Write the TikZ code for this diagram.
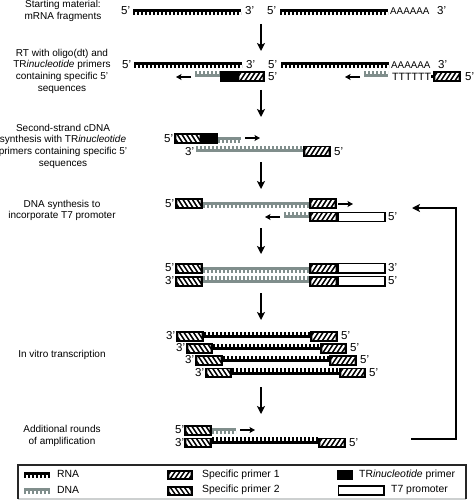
\documentclass[tikz,border=0pt]{standalone}
\usepackage{fontspec}
\setmainfont{Liberation Sans}
\usetikzlibrary{arrows.meta}
\definecolor{dnagray}{RGB}{128,142,140}
\definecolor{lowgray}{RGB}{205,208,208}
\tikzset{
  steplabel/.style={align=center,font=\fontsize{10}{11.7}\selectfont,inner sep=0pt},
  endlabel/.style={font=\fontsize{11.5}{12}\selectfont,inner sep=0pt,anchor=west},
  seqlabel/.style={font=\fontsize{9.8}{12}\selectfont,inner sep=0pt,anchor=west},
  legendlabel/.style={font=\fontsize{10.4}{12}\selectfont,inner sep=0pt,anchor=west},
  flow/.style={line width=1.3pt,-{Stealth[length=8pt,width=8pt,inset=2pt]}},
  small flow/.style={line width=1.1pt,-{Stealth[length=5.5pt,width=6pt,inset=1.2pt]}},
  blackbox/.style={fill=black,draw=none},
  t7box/.style={fill=white,draw=black,line width=1.4pt},
}
% strand: x1, x2, top y, colour
\newcommand{\strandD}[4]{%
  \fill[#4] (#1,#3) rectangle (#2,#3+3);
  \draw[#4,line width=3.4pt,dash pattern=on 2pt off 2pt] (#1,#3+4.7) -- (#2,#3+4.7);}
\newcommand{\strandU}[4]{%
  \fill[#4] (#1,#3+3) rectangle (#2,#3+6);
  \draw[#4,line width=3.4pt,dash pattern=on 2pt off 2pt] (#1,#3+1.3) -- (#2,#3+1.3);}
% stripe boxes: x1, y1, x2, y2
\newcommand{\primerA}[4]{%
  \fill[black] (#1,#2) rectangle (#3,#4);
  \begin{scope}
    \clip (#1+2.4,#2+2.2) rectangle (#3-2.4,#4-2.2);
    \foreach \k in {-2,...,7}{
      \draw[white,line width=2.1pt] (#1+\k*4.7,#4) -- (#1+\k*4.7+7,#2);}
  \end{scope}}
\newcommand{\primerB}[4]{%
  \fill[black] (#1,#2) rectangle (#3,#4);
  \begin{scope}
    \clip (#1+2.4,#2+2.2) rectangle (#3-2.4,#4-2.2);
    \foreach \k in {-2,...,7}{
      \draw[white,line width=2.1pt] (#1+\k*4.7,#2) -- (#1+\k*4.7+7,#4);}
  \end{scope}}
\newcommand{\flowarrow}[4]{%
  \coordinate (#1s) at (#2,#3);
  \coordinate (#1e) at (#2,#4);
  \draw[flow] (#1s) -- (#1e);}
% small arrow: name, from x, to x, y
\newcommand{\sarrow}[4]{%
  \coordinate (#1s) at (#2,#4);
  \coordinate (#1e) at (#3,#4);
  \draw[small flow] (#1s) -- (#1e);}
\begin{document}
\begin{tikzpicture}[x=1pt,y=-1pt]
\useasboundingbox (0,0) rectangle (474,500);
% step labels
\node[steplabel] (l1) at (63,11) {Starting material:\\mRNA fragments};
\node[steplabel] (l2) at (62,71) {RT with oligo(dt) and\\TR\textit{inucleotide} primers\\containing specific 5'\\sequences};
\node[steplabel] (l3) at (63,146) {Second-strand cDNA\\synthesis with TR\textit{inucleotide}\\primers containing specific 5'\\sequences};
\node[steplabel] (l4) at (62,210.5) {DNA synthesis to\\incorporate T7 promoter};
\node[steplabel] (l5) at (62,354.5) {In vitro transcription};
\node[steplabel] (l6) at (62,436) {Additional rounds\\of amplification};
% row 1
\node[endlabel] (r1a) at (121,10.5) {5'};
\strandD{133}{241}{9}{black}
\node[endlabel] (r1b) at (245,10.5) {3'};
\node[endlabel] (r1c) at (267,10.5) {5'};
\strandD{280}{388}{9}{black}
\node[seqlabel] (r1d) at (390,11) {AAAAAA};
\node[endlabel] (r1e) at (437,10.5) {3'};
\flowarrow{a1}{261}{24}{51}
% row 2
\node[endlabel] (r2a) at (122,64.5) {5'};
\strandD{134}{242}{62}{black}
\node[endlabel] (r2b) at (246,64.5) {3'};
\node[endlabel] (r2c) at (268,64.5) {5'};
\strandD{281}{389}{62}{black}
\node[seqlabel] (r2d) at (391,65) {AAAAAA};
\node[endlabel] (r2e) at (438,64.5) {3'};
\sarrow{s1}{191}{176}{77}
\strandU{195}{220}{71}{dnagray}
\fill[blackbox] (220,71.5) rectangle (237,82);
\primerA{237}{71.5}{265}{82}
\node[endlabel] (r2f) at (268,77) {5'};
\sarrow{s2}{360}{345}{77}
\strandU{364}{388}{71}{dnagray}
\node[seqlabel,font=\fontsize{10.6}{12}\selectfont] (r2g) at (392,77) {TTTTTT};
\fill[black] (431,75) rectangle (434,78);
\primerA{433}{71.5}{461}{82}
\node[endlabel] (r2h) at (465,77) {5'};
\flowarrow{a2}{261}{90}{117}
% row 3
\node[endlabel] (r3a) at (164,138.5) {5'};
\primerB{174}{133}{202}{144}
\fill[blackbox] (202,133) rectangle (218,144);
\strandD{218}{241}{137}{dnagray}
\sarrow{s3}{245}{260}{138}
\node[endlabel] (r3b) at (185,152) {3'};
\strandU{196}{303}{146}{dnagray}
\primerA{303}{145.5}{331}{156.5}
\node[endlabel] (r3c) at (334,152) {5'};
\flowarrow{a3}{261}{162}{189}
% row 4
\node[endlabel] (r4a) at (165,204) {5'};
\primerB{175}{198}{203}{209}
\strandD{203}{309}{202}{dnagray}
\primerA{309}{198}{337}{209}
\sarrow{s4}{338}{353}{204}
\sarrow{s5}{280}{265}{217}
\strandU{284}{309}{212}{dnagray}
\primerA{309}{211.5}{338}{222}
\draw[t7box] (338,212.2) rectangle (385,221.3);
\node[endlabel] (r4b) at (388,217) {5'};
\flowarrow{a4}{261}{228}{254}
% row 5
\node[endlabel] (r5a) at (165,268) {5'};
\primerB{175}{263}{203}{273.5}
\strandD{203}{309}{266.5}{dnagray}
\primerA{309}{263}{338}{273.5}
\draw[t7box] (338,263.7) rectangle (385,272.8);
\node[endlabel] (r5b) at (388,268) {3'};
\node[endlabel] (r5c) at (165,281) {3'};
\primerB{175}{276}{203}{286.5}
\strandU{203}{309}{276.5}{dnagray}
\primerA{309}{276}{338}{286.5}
\draw[t7box] (338,276.7) rectangle (385,285.8);
\node[endlabel] (r5d) at (388,281) {5'};
\flowarrow{a5}{261}{293}{320}
% transcripts
\node[endlabel] (t1a) at (166,336) {3'};
\primerB{176}{331}{204}{341.5}
\strandU{204}{310}{332}{black}
\primerA{310}{331}{338}{341.5}
\node[endlabel] (t1b) at (341,336) {5'};
\node[endlabel] (t2a) at (176,348) {3'};
\primerB{186}{343}{213}{353.5}
\strandU{213}{320}{344}{black}
\primerA{320}{343}{347}{353.5}
\node[endlabel] (t2b) at (350,348) {5'};
\node[endlabel] (t3a) at (185,360) {3'};
\primerB{195}{355}{223}{365.5}
\strandU{223}{329}{356}{black}
\primerA{329}{355}{357}{365.5}
\node[endlabel] (t3b) at (360,360) {5'};
\node[endlabel] (t4a) at (195,372.5) {3'};
\primerB{205}{367.5}{232}{378}
\strandU{232}{339}{368.5}{black}
\primerA{339}{367.5}{366}{378}
\node[endlabel] (t4b) at (369,372.5) {5'};
\flowarrow{a6}{261}{387}{414}
% final row
\node[endlabel] (f1a) at (175,430) {5'};
\primerB{184}{425}{212}{435.5}
\strandD{212}{236}{428}{dnagray}
\sarrow{s6}{240}{255}{430}
\node[endlabel] (f1b) at (175,443) {3'};
\primerB{184}{437.5}{212}{448}
\strandU{212}{318}{437.5}{black}
\primerA{318}{437.5}{346}{448}
\node[endlabel] (f1c) at (349,443) {5'};
% feedback arrow
\coordinate (fbs) at (411,439);
\coordinate (fbc) at (456,439);
\coordinate (fbd) at (456,208);
\coordinate (fbe) at (412,208);
\draw[flow] (fbs) -- (fbc) -- (fbd) -- (fbe);
% legend
\fill[lowgray] (18,498) rectangle (466,500);
\draw[black!85,line width=1.1pt] (18,498.5) -- (18,465) -- (466,465) -- (466,498.5);
\strandD{24}{50}{472}{black}
\node[legendlabel] (k1) at (57,474) {RNA};
\strandD{24}{50}{488}{dnagray}
\node[legendlabel] (k2) at (57,490) {DNA};
\primerA{167}{470}{193}{480}
\node[legendlabel] (k3) at (202,474.5) {Specific primer 1};
\primerB{167}{486}{193}{496}
\node[legendlabel] (k4) at (202,490) {Specific primer 2};
\fill[blackbox] (337,470) rectangle (353,480);
\node[legendlabel] (k5) at (359,474.5) {TR\textit{inucleotide} primer};
\draw[t7box] (338.5,486) rectangle (384,495);
\node[legendlabel] (k6) at (391,490) {T7 promoter};
\end{tikzpicture}
\end{document}
